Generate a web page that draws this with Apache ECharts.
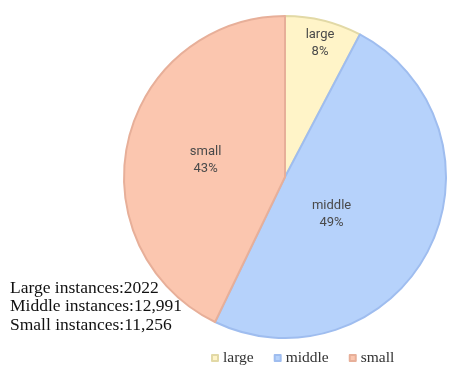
<!DOCTYPE html>
<html>
<head>
<meta charset="utf-8">
<script src="https://cdn.jsdelivr.net/npm/echarts@6/dist/echarts.min.js"></script>
<style>html,body{margin:0;padding:0;background:#fff;}#c{width:474px;height:376px;}</style>
</head>
<body>
<div id="c"></div>
<script>
var categories = ['large', 'middle', 'small'];
var values = [2022, 12991, 11256];
var noteLines = ['Large instances:2022', 'Middle instances:12,991', 'Small instances:11,256'];

var fills = ['#FFF4C8', '#B6D2FB', '#FBC6AF'];
var borders = ['#E2D9A6', '#9FBDEF', '#E7AF99'];
var labelShift = [[15, -53], [-28, 0], [2, 2]];

var chart = echarts.init(document.getElementById('c'), null, {renderer: 'canvas'});
chart.setOption({
  animation: false,
  legend: {
    left: 206, top: 345,
    itemWidth: 6, itemHeight: 6, itemGap: 20,
    icon: 'rect',
    textStyle: {fontFamily: 'Liberation Serif', fontSize: 15.5, color: '#333'},
    data: categories
  },
  graphic: [{
    type: 'text', left: 10, top: 279,
    style: {text: noteLines.join('\n'), font: '17.5px "Liberation Serif"', fill: '#111', lineHeight: 18.5}
  }],
  series: [{
    type: 'pie',
    center: [285, 177],
    radius: [0, 161],
    startAngle: 90,
    clockwise: true,
    data: categories.map(function (c, i) {
      return {name: c, value: values[i], itemStyle: {color: fills[i], borderColor: borders[i], borderWidth: 2}};
    }),
    label: {
      position: 'inside',
      formatter: function (p) { return p.name + '\n' + Math.round(p.percent) + '%'; },
      fontFamily: 'Roboto', fontSize: 13, color: '#4a4a4a', lineHeight: 17
    },
    labelLayout: function (p) {
      var s = labelShift[p.dataIndex];
      return {dx: s[0], dy: s[1]};
    },
    emphasis: {disabled: true}
  }]
});
</script>
</body>
</html>
